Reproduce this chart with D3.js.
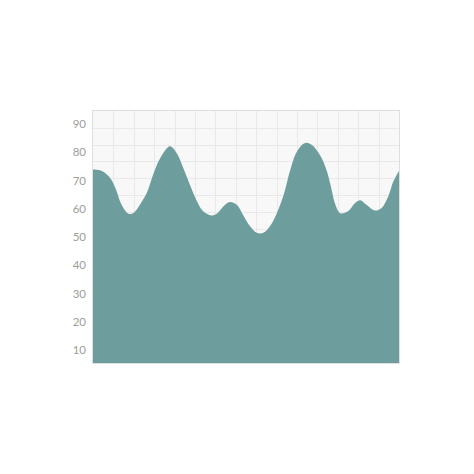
<!DOCTYPE html>
<html>
<head>
<meta charset="utf-8">
<script src="https://cdn.jsdelivr.net/npm/d3@7"></script>
<style>
  html, body { margin: 0; padding: 0; background: #ffffff; }
  svg { display: block; }
</style>
</head>
<body>
<svg id="chart" width="474" height="474"></svg>
<script>
// Data (x position along the series, value)
const xs = [0, 0.7, 1.3, 1.8, 2.3, 2.8, 3.5, 4.0, 4.6, 5.3, 5.9, 6.6, 7.55, 8.2, 8.85, 9.5, 10.2, 10.8, 11.6, 12.1, 12.8, 13.4, 14.1, 14.7, 15.4, 16.05, 16.7, 17.35, 18.0, 18.7, 19.3, 20.0, 20.8, 21.4, 22.25, 22.9, 23.3, 23.75, 24.25, 25.0, 25.7, 26.2, 26.8, 27.65, 28.3, 28.95, 29.45, 30];
const values = [73.9, 73.6, 72.3, 70.3, 66.4, 61.4, 58.2, 58.6, 61.4, 65.8, 72.1, 78.0, 82.1, 79.7, 74.4, 68.5, 62.6, 59.1, 57.6, 58.1, 60.9, 62.4, 61.4, 57.9, 53.8, 51.5, 51.5, 53.8, 58.2, 65.0, 73.3, 80.3, 83.3, 82.7, 79.0, 73.6, 68.2, 61.6, 58.4, 59.1, 62.0, 63.0, 61.4, 59.4, 60.3, 64.4, 69.7, 73.4];
const yTicks = [10, 20, 30, 40, 50, 60, 70, 80, 90];
const gridDivisions = 15;

(function () {
const data = xs.map((x, i) => ({ x, v: values[i] }));

const svg = d3.select("#chart");
const pl = 93, pr = 399, pt = 111, pb = 363;

const x = d3.scaleLinear().domain([0, 30]).range([pl, pr]);
const y = d3.scaleLinear().domain([5.4, 94.6]).range([pb, pt]);
const gx = d3.scaleLinear().domain([0, gridDivisions]).range([pl, pr]);
const gy = d3.scaleLinear().domain([0, gridDivisions]).range([pt, pb]);

// plot background
svg.append("rect")
  .attr("x", pl).attr("y", pt)
  .attr("width", pr - pl).attr("height", pb - pt)
  .attr("fill", "#f8f8f8");

// grid
const grid = svg.append("g").attr("stroke", "#e9e9e9").attr("stroke-width", 1);
grid.selectAll("line.v").data(d3.range(1, gridDivisions)).join("line")
  .attr("class", "v")
  .attr("x1", d => Math.round(gx(d)) + 0.5).attr("x2", d => Math.round(gx(d)) + 0.5)
  .attr("y1", pt).attr("y2", pb);
grid.selectAll("line.h").data(d3.range(1, gridDivisions)).join("line")
  .attr("class", "h")
  .attr("y1", d => Math.round(gy(d)) + 0.5).attr("y2", d => Math.round(gy(d)) + 0.5)
  .attr("x1", pl).attr("x2", pr);

// area
const area = d3.area()
  .x(d => x(d.x))
  .y0(y(5.4))
  .y1(d => y(d.v))
  .curve(d3.curveCatmullRom.alpha(0.5));

svg.append("path")
  .datum(data)
  .attr("d", area)
  .attr("fill", "#6d9e9d");

// border
svg.append("rect")
  .attr("x", pl - 0.5).attr("y", pt - 0.5)
  .attr("width", pr - pl + 1).attr("height", pb - pt + 1)
  .attr("fill", "none")
  .attr("stroke", "#dedede");

// y axis labels
const yAxis = d3.axisLeft(y).tickValues(yTicks).tickSize(0).tickPadding(7);
const ga = svg.append("g").attr("transform", `translate(${pl},0)`).call(yAxis);
ga.select(".domain").remove();
ga.selectAll("text")
  .attr("fill", "#9d9d9d")
  .style("font-family", "Lato, 'Open Sans', sans-serif")
  .style("font-size", "11.5px");
})();
</script>
</body>
</html>
